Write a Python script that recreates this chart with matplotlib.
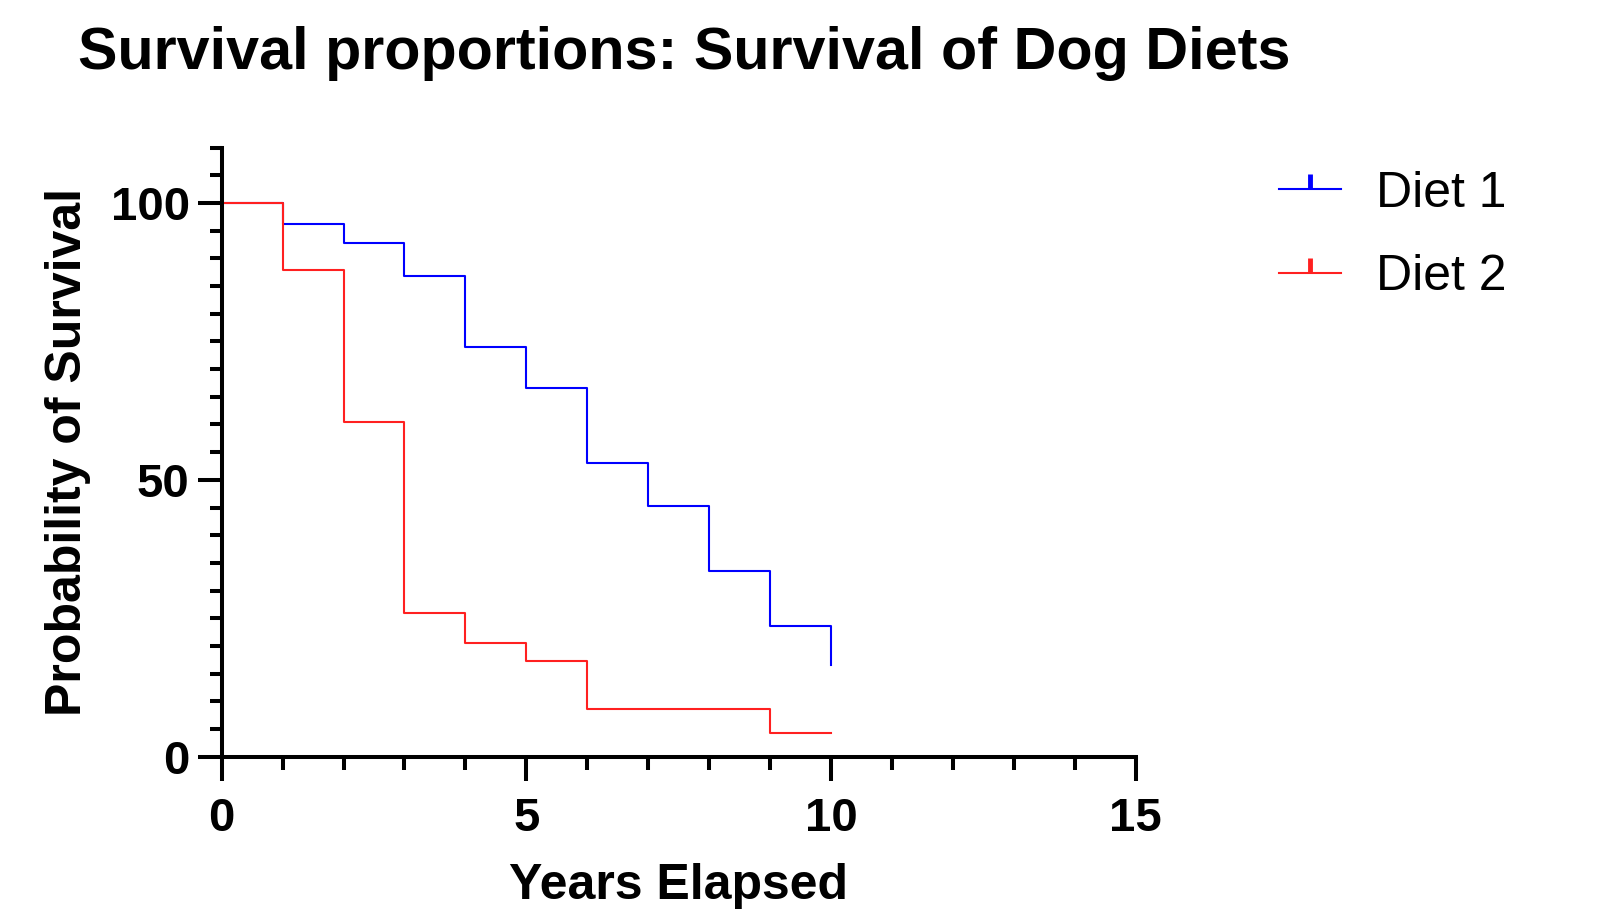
import matplotlib
matplotlib.use("Agg")
import matplotlib.pyplot as plt
from matplotlib.lines import Line2D
from matplotlib.ticker import MultipleLocator

# survival data (percent)
years = [0, 1, 2, 3, 4, 5, 6, 7, 8, 9, 10]
diet1 = [100, 96.3, 92.8, 86.9, 74.0, 66.6, 53.1, 45.2, 33.5, 23.6, 16.5]
diet2 = [100, 87.9, 60.4, 26.0, 20.5, 17.2, 8.6, 8.6, 8.6, 4.2, 4.2]
labels = ["Diet 1", "Diet 2"]
colors = ["#0000FF", "#FF2020"]

plt.rcParams['font.family'] = ['Liberation Sans', 'DejaVu Sans']

fig = plt.figure(figsize=(16.19, 9.24), dpi=100)
ax = fig.add_axes([0.1369, 0.1811, 0.7015 - 0.1369, 0.8402 - 0.1811])

for y, c in zip([diet1, diet2], colors):
    ax.plot(years, y, drawstyle='steps-post', color=c, lw=1.5, clip_on=False)

ax.set_xlim(0, 15)
ax.set_ylim(0, 110)
ax.xaxis.set_major_locator(MultipleLocator(5))
ax.xaxis.set_minor_locator(MultipleLocator(1))
ax.yaxis.set_major_locator(MultipleLocator(50))
ax.yaxis.set_minor_locator(MultipleLocator(5))

for s in ['top', 'right']:
    ax.spines[s].set_visible(False)
for s in ['left', 'bottom']:
    ax.spines[s].set_linewidth(2.9)

ax.tick_params(which='major', length=17, width=2.9, labelsize=34, pad=6)
ax.tick_params(axis='x', which='major', pad=12)
ax.tick_params(which='minor', length=9, width=2.9)
for lab in ax.get_xticklabels() + ax.get_yticklabels():
    lab.set_fontweight('bold')

ax.set_xlabel("Years Elapsed", fontsize=36, fontweight='bold', labelpad=16)
ax.set_ylabel("Probability of Survival", fontsize=36, fontweight='bold', labelpad=14)

fig.text(0.048, 0.925, "Survival proportions: Survival of Dog Diets",
         fontsize=42.7, fontweight='bold', ha='left', va='baseline')

# legend handle: line with a small upward tick in the middle
handles = [Line2D([0, 0.5, 1], [0, 0, 0], color=c, lw=1.5, marker=2,
                  markersize=11, markeredgewidth=3.5, markevery=[1]) for c in colors]
leg = fig.legend(handles, labels, loc='upper left', bbox_to_anchor=(0.762, 0.864),
                 frameon=False, fontsize=36, handlelength=1.25, handletextpad=0.7,
                 labelspacing=0.75)

fig.savefig("out.png", dpi=100)
